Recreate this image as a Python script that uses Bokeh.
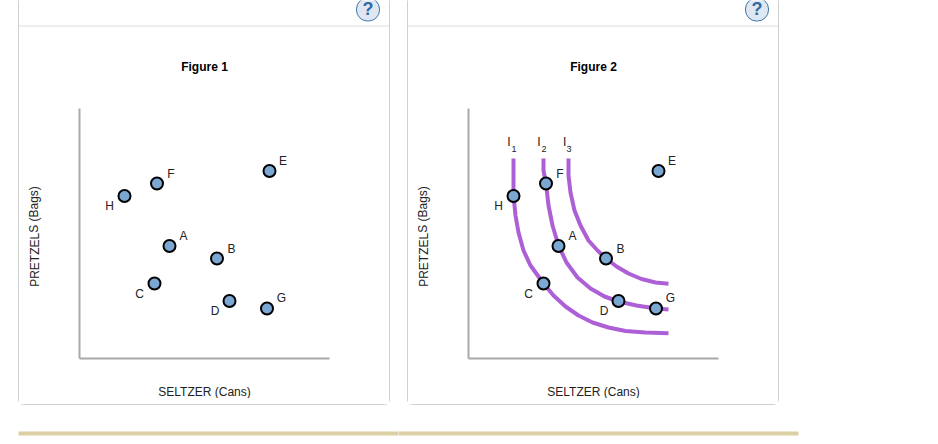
from bokeh.core.properties import value
from bokeh.embed import file_html
from bokeh.layouts import row
from bokeh.models import BoxAnnotation, ColumnDataSource, FixedTicker, Label, LinearAxis, Range1d
from bokeh.plotting import figure
from bokeh.resources import INLINE

# ---- data (axis units) ----
point_names = ["A", "B", "C", "D", "E", "F", "G", "H"]
point_x = [3.6, 5.5, 3.0, 6.0, 7.6, 3.1, 7.5, 1.8]
point_y = [4.5, 4.0, 3.0, 2.3, 7.5, 7.0, 2.0, 6.5]

i1_x = [1.80, 1.80, 1.80, 1.88, 2.00, 2.20, 2.48, 3.00, 3.40, 3.88, 4.40, 4.96, 5.60, 6.28, 7.08, 8.00]
i1_y = [8.00, 7.20, 6.52, 5.72, 5.04, 4.32, 3.72, 3.00, 2.52, 2.08, 1.72, 1.44, 1.24, 1.10, 1.04, 1.01]
i2_x = [3.00, 3.00, 3.10, 3.20, 3.36, 3.60, 3.92, 4.36, 4.88, 5.44, 6.00, 6.72, 7.50, 8.00]
i2_y = [8.00, 7.52, 7.00, 6.12, 5.32, 4.52, 3.84, 3.24, 2.80, 2.48, 2.28, 2.12, 2.00, 1.96]
i3_x = [4.00, 4.00, 4.08, 4.24, 4.48, 4.80, 5.16, 5.50, 5.92, 6.40, 6.92, 7.48, 8.00]
i3_y = [8.00, 7.32, 6.64, 5.92, 5.32, 4.72, 4.32, 4.00, 3.68, 3.40, 3.18, 3.04, 2.99]
curve_subscripts = ["1", "2", "3"]

x_label = "SELTZER (Cans)"
y_label = "PRETZELS (Bags)"
titles = ["Figure 1", "Figure 2"]

# ---- style ----
FONT = "Liberation Sans"
offset_x = {"A": 14, "B": 14.5, "C": -15, "D": -14.5, "E": 13.5, "F": 14, "G": 14.5, "H": -15}
offset_y = {"A": -10, "B": -10, "C": 10, "D": 10, "E": -10, "F": -10, "G": -10.5, "H": 10}
letter_dx = [-4.5, -4.5, -3.8]
PX = 25.0  # pixels per axis unit
FRAME_BOTTOM = 358
AXIS_MAX = 10


class Panel:
    def __init__(self, page_left, frame_left, width):
        self.frame_left = frame_left
        self.X = lambda px: (px - frame_left) / PX
        self.Y = lambda py: (FRAME_BOTTOM - py) / PX
        p = figure(
            width=width, height=444, output_backend="svg", toolbar_location=None,
            x_range=Range1d(self.X(page_left), self.X(page_left + width)),
            y_range=Range1d(self.Y(444), self.Y(0)),
            x_axis_type=None, y_axis_type=None,
            min_border=0, min_border_left=0, min_border_right=0, min_border_top=0, min_border_bottom=0,
            outline_line_color=None, background_fill_color=None, border_fill_color=None,
        )
        p.grid.visible = False
        xax = LinearAxis(fixed_location=0, bounds=(0, AXIS_MAX), axis_label=x_label,
                         axis_label_text_font=FONT, axis_label_text_font_size="12px",
                         axis_label_text_font_style="normal", axis_label_text_color="#222222",
                         axis_label_standoff=26)
        yax = LinearAxis(fixed_location=0, bounds=(0, AXIS_MAX))
        for ax, side in ((xax, "below"), (yax, "left")):
            ax.ticker = FixedTicker(ticks=[])
            ax.major_tick_line_color = None
            ax.minor_tick_line_color = None
            ax.axis_line_color = "#a9a9a9"
            ax.axis_line_width = 2
            p.add_layout(ax, side)
        self.p = p

    def box(self, left, right, top, bottom, fill, line=None, radius=0, level="underlay"):
        self.p.add_layout(BoxAnnotation(
            left=self.X(left), right=self.X(right), top=self.Y(top), bottom=self.Y(bottom),
            fill_color=fill, fill_alpha=1.0,
            line_color=line, line_alpha=1.0 if line else 0.0, line_width=1,
            border_radius=radius, level=level, editable=False,
        ))

    def text(self, s, x, y, size, style="normal", color="#000000", angle=0.0):
        self.p.add_layout(Label(
            x=self.X(x), y=self.Y(y), text=s,
            text_font=FONT, text_font_size=size, text_font_style=style, text_color=color,
            text_align="center", text_baseline="middle", angle=angle, level="annotation",
        ))

    def decorate(self, title, l):
        self.box(l, l + 371, -10, 404, "#ffffff", "#cfcfcf", radius=5)
        self.box(l + 0.5, l + 370.5, 25, 26, "#dddddd")
        c = l + 349.5
        self.box(c - 11.5, c + 11.5, -2.5, 20.5, "#dfe8f2", "#3f74ab", radius=11, level="annotation")
        self.text("?", c, 8.5, "18px", "bold", "#2f6aa6")
        self.text(title, l + 186, 66.5, "12px", "bold")
        self.text(y_label, l + 16, 236, "12px", "normal", "#222222", angle=1.5708)
        self.box(l + 0.5, l + 370.5, 397.5, 403.5, "#ffffff", level="overlay")

    def points(self):
        src = ColumnDataSource(dict(
            x=point_x, y=point_y, name=point_names,
            dx=[offset_x[n] for n in point_names], dy=[offset_y[n] for n in point_names],
        ))
        self.p.scatter("x", "y", source=src, size=12, fill_color="#7ba7d3", line_color="#000000",
                       line_width=2, level="overlay")
        self.p.text("x", "y", text="name", source=src, x_offset="dx", y_offset="dy",
                    text_font=value(FONT), text_font_size="12px", text_color="#222222",
                    text_align="center", text_baseline="middle", level="overlay")


a = Panel(0, 79, 398)
a.decorate(titles[0], 18)
a.points()
a.box(18, 400, 431, 435, "#dccfa3")

b = Panel(398, 468, 540)
b.decorate(titles[1], 407)
curves = [(i1_x, i1_y), (i2_x, i2_y), (i3_x, i3_y)]
for (cx, cy), sub, dx in zip(curves, curve_subscripts, letter_dx):
    b.p.line(cx, cy, line_color="#ad60d6", line_width=4, line_join="round")
    src = ColumnDataSource(dict(x=[cx[0]], y=[cy[0]], letter=["I"], sub=[sub]))
    b.p.text("x", "y", text="letter", source=src, x_offset=dx, y_offset=-17, text_font=value(FONT),
             text_font_size="12px", text_color="#222222", text_align="center", text_baseline="middle")
    b.p.text("x", "y", text="sub", source=src, x_offset=0.5, y_offset=-10, text_font=value(FONT),
             text_font_size="9px", text_color="#222222", text_align="center", text_baseline="middle")
b.points()
b.box(396, 798, 431, 435, "#dccfa3")

root = row(a.p, b.p, spacing=0, styles={"position": "absolute", "left": "0px", "top": "0px"})
open("out.html", "w").write(file_html(root, INLINE))
